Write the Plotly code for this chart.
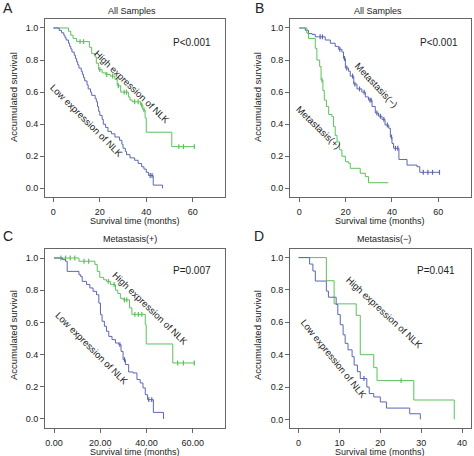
"""
Kaplan-Meier survival curves by NLK expression and metastasis status.
Four panels (A-D) redrawn with plotly.
"""

import plotly.graph_objects as go

# Panel A: all samples, by NLK expression
a_high_t = [0, 6.5, 7.5, 8.5, 10, 15.5, 16.5, 18, 18.5, 19.5, 21, 22.5, 24.5, 26.5, 27.5, 29,
            32.3, 33, 34, 37.5, 38.5, 39.5, 40, 51, 60.7]
a_high_s = [1.0, 0.98, 0.955, 0.935, 0.915, 0.88, 0.84, 0.82, 0.78, 0.74, 0.72, 0.71, 0.70, 0.68,
            0.64, 0.60, 0.57, 0.55, 0.54, 0.52, 0.49, 0.44, 0.35, 0.26, 0.26]
a_high_cens = [11.5, 13, 20, 23, 25.5, 28, 30.5, 31.5, 35, 36.5, 38, 39, 54, 56, 60.7]

a_low_t = [0, 2.5, 3.5, 4.5, 5, 5.5, 6.5, 7, 7.5, 8, 9, 9.5, 10, 10.5, 11, 12, 12.5, 13, 13.5,
           14.5, 15, 16, 16.5, 18, 18.5, 19, 19.5, 20, 21, 21.5, 22.5, 23.5, 25, 26.5, 28.5, 29.5,
           30, 31, 31.5, 33, 35, 36.5, 38, 39, 40, 41, 43, 47]
a_low_s = [1.0, 0.985, 0.97, 0.955, 0.94, 0.925, 0.905, 0.885, 0.87, 0.85, 0.83, 0.81, 0.79, 0.77,
           0.75, 0.73, 0.71, 0.69, 0.67, 0.645, 0.62, 0.60, 0.58, 0.56, 0.54, 0.51, 0.48, 0.455,
           0.43, 0.40, 0.38, 0.355, 0.34, 0.32, 0.30, 0.275, 0.25, 0.23, 0.21, 0.19, 0.175, 0.155,
           0.135, 0.12, 0.10, 0.08, 0.02, 0.0]
a_low_cens = [41.7, 42.5]

# Panel B: all samples, by metastasis
b_neg_t = [0, 2.6, 4, 5.5, 6.9, 11.2, 13.4, 15.5, 17, 18.4, 19.1, 19.9, 21.3, 22, 23.5, 24.9, 27,
           28.5, 29.9, 31.4, 32.8, 34.2, 35.7, 37, 38.6, 39.3, 40, 40.7, 43, 46.5, 50.8, 52, 60.5]
b_neg_s = [1.0, 0.985, 0.965, 0.96, 0.945, 0.925, 0.905, 0.885, 0.867, 0.85, 0.81, 0.75, 0.73,
           0.70, 0.65, 0.62, 0.60, 0.57, 0.55, 0.51, 0.47, 0.45, 0.43, 0.395, 0.375, 0.32, 0.28,
           0.25, 0.18, 0.145, 0.135, 0.10, 0.10]
b_neg_cens = [9, 10, 17.5, 19.5, 20.5, 23, 24, 26, 28, 30.5, 31, 33.5, 35, 36.5, 38, 39.8, 41.5,
              42.5, 53.5, 55.5, 57.5, 60.5]

b_pos_t = [0, 3.3, 4, 6.9, 7.6, 8.8, 9.4, 10.2, 10.8, 11.7, 12.7, 14.1, 14.8, 15.5, 16.3, 17.4,
           18.4, 19.9, 21.3, 22, 26.3, 28.5, 29.9, 38.4]
b_pos_s = [1.0, 0.967, 0.935, 0.873, 0.80, 0.76, 0.675, 0.61, 0.55, 0.51, 0.46, 0.447, 0.385,
           0.33, 0.29, 0.24, 0.20, 0.166, 0.156, 0.125, 0.094, 0.073, 0.035, 0.035]
b_pos_cens = [9.8]

# Panel C: metastasis(+), by NLK expression
c_high_t = [0, 10.8, 17.7, 18.7, 19.8, 21.5, 22.7, 24.4, 26.6, 27.6, 28.7, 29.9, 32.7, 33.7,
            39.5, 39.9, 51.4, 60.7]
c_high_s = [1.0, 0.98, 0.96, 0.917, 0.88, 0.865, 0.855, 0.835, 0.80, 0.78, 0.75, 0.74, 0.69,
            0.65, 0.586, 0.466, 0.348, 0.348]
c_high_cens = [3, 5, 7, 9, 13, 15, 23.5, 26, 30.5, 31.5, 35, 36.5, 38, 53.5, 56, 60.7]

c_low_t = [0, 3.6, 5, 5.7, 10.8, 11.5, 12.2, 14.1, 15.5, 16.9, 18.4, 19.4, 20.1, 20.8, 21.8, 22.7,
           23.7, 25.1, 26.6, 28, 29, 29.9, 30.9, 32.3, 34.2, 35.9, 37.3, 38.5, 39.5, 40.5, 43, 47.4]
c_low_s = [1.0, 0.99, 0.98, 0.917, 0.896, 0.886, 0.855, 0.835, 0.814, 0.793, 0.772, 0.72, 0.648,
           0.607, 0.576, 0.545, 0.513, 0.493, 0.472, 0.462, 0.42, 0.369, 0.338, 0.292, 0.286,
           0.245, 0.224, 0.193, 0.151, 0.12, 0.041, 0.0]
c_low_cens = [28.5, 30.5, 41, 42.3]

# Panel D: metastasis(-), by NLK expression
d_high_t = [0, 6.8, 8.7, 14.1, 15.1, 18.4, 19.2, 28.2, 38.1]
d_high_s = [1.0, 0.857, 0.714, 0.643, 0.40, 0.32, 0.24, 0.12, 0.0]
d_high_cens = [25.1]

d_low_t = [0, 2.7, 3.5, 4.1, 6.8, 7.3, 9.2, 9.6, 10.2, 10.9, 11.4, 12.1, 13.1, 13.6, 14.4, 15.1,
           16.7, 17.3, 18.4, 20, 21.5, 27.2, 29.8]
d_low_s = [1.0, 0.96, 0.917, 0.855, 0.793, 0.755, 0.71, 0.648, 0.585, 0.523, 0.47, 0.43, 0.388,
           0.336, 0.295, 0.253, 0.20, 0.16, 0.139, 0.108, 0.07, 0.035, 0.0]
d_low_cens = [16]

GREEN = '#5cc15c'
BLUE = '#5b67b3'
FONT = 'Liberation Sans, Arial, sans-serif'

W, H = 474, 456


def step_at(t_list, s_list, t):
    """Survival value of a step curve at time t."""
    val = s_list[0]
    for ti, si in zip(t_list, s_list):
        if ti <= t:
            val = si
    return val


def add_curve(fig, t_list, s_list, cens, color, xa, ya):
    """Step line plus censor ticks."""
    fig.add_trace(go.Scatter(
        x=t_list, y=s_list, mode='lines', line=dict(color=color, width=1, shape='hv'),
        xaxis=xa, yaxis=ya, showlegend=False, hoverinfo='skip'))
    fig.add_trace(go.Scatter(
        x=cens, y=[step_at(t_list, s_list, c) for c in cens], mode='markers',
        marker=dict(symbol='line-ns', size=3.5, line=dict(color=color, width=1.2)),
        xaxis=xa, yaxis=ya, showlegend=False, hoverinfo='skip'))


fig = go.Figure()

add_curve(fig, a_high_t, a_high_s, a_high_cens, GREEN, 'x', 'y')
add_curve(fig, a_low_t, a_low_s, a_low_cens, BLUE, 'x', 'y')
add_curve(fig, b_neg_t, b_neg_s, b_neg_cens, BLUE, 'x2', 'y2')
add_curve(fig, b_pos_t, b_pos_s, b_pos_cens, GREEN, 'x2', 'y2')
add_curve(fig, c_high_t, c_high_s, c_high_cens, GREEN, 'x3', 'y3')
add_curve(fig, c_low_t, c_low_s, c_low_cens, BLUE, 'x3', 'y3')
add_curve(fig, d_high_t, d_high_s, d_high_cens, GREEN, 'x4', 'y4')
add_curve(fig, d_low_t, d_low_s, d_low_cens, BLUE, 'x4', 'y4')

# panel frames in pixels: (left, right, top, bottom)
left_x = [45 / W, 225 / W]
right_x = [290 / W, 471 / W]
top_y = [1 - 197 / H, 1 - 19 / H]
bot_y = [1 - 428 / H, 1 - 249 / H]

axis_style = dict(showline=True, linecolor='#666666', linewidth=1, mirror=True,
                  showgrid=False, zeroline=False, ticks='outside', ticklen=4,
                  tickcolor='#666666', tickfont=dict(size=9, color='#222222', family=FONT))

xax = dict(axis_style, ticklabelstandoff=2)
yax = dict(axis_style, tickvals=[0, 0.2, 0.4, 0.6, 0.8, 1.0], tickformat='.1f')

fig.update_layout(
    width=W, height=H, autosize=False,
    margin=dict(l=0, r=0, t=0, b=0),
    paper_bgcolor='white', plot_bgcolor='white',
    font=dict(family=FONT, color='#222222'),
    xaxis=dict(xax, domain=left_x, range=[-3.6, 73.9], tickvals=[0, 20, 40, 60], anchor='y'),
    yaxis=dict(yax, domain=top_y, range=[-0.054, 1.056], anchor='x'),
    xaxis2=dict(xax, domain=right_x, range=[-4.0, 74.1], tickvals=[0, 20, 40, 60], anchor='y2'),
    yaxis2=dict(yax, domain=top_y, range=[-0.054, 1.056], anchor='x2'),
    xaxis3=dict(xax, domain=left_x, range=[-3.9, 74.0], tickvals=[0, 20, 40, 60],
                tickformat='.2f', anchor='y3'),
    yaxis3=dict(yax, domain=bot_y, range=[-0.056, 1.056], anchor='x3'),
    xaxis4=dict(xax, domain=right_x, range=[-2.1, 42.2], tickvals=[0, 10, 20, 30, 40], anchor='y4'),
    yaxis4=dict(yax, domain=bot_y, range=[-0.053, 1.053], anchor='x4'),
)


def paper_text(text, px, py, size, angle=0):
    """Annotation placed by pixel position on the page."""
    fig.add_annotation(text=text, x=px / W, y=1 - py / H, xref='paper', yref='paper',
                       showarrow=False, textangle=angle, xanchor='center', yanchor='middle',
                       font=dict(size=size, family=FONT, color='#222222'))


def data_text(text, x, y, xa, ya, size=9.5, angle=0):
    """Annotation placed in data coordinates of one panel."""
    fig.add_annotation(text=text, x=x, y=y, xref=xa, yref=ya, showarrow=False,
                       textangle=angle, xanchor='center', yanchor='middle',
                       font=dict(size=size, family=FONT, color='#222222'))


# panel letters
paper_text('A', 8, 8, 14)
paper_text('B', 259, 8, 14)
paper_text('C', 8, 236, 14)
paper_text('D', 259, 236, 14)

# panel titles
paper_text('All Samples', 132, 11, 9)
paper_text('All Samples', 378, 11, 9)
paper_text('Metastasis(+)', 130, 239, 9)
paper_text('Metastasis(\u2212)', 384, 239, 9)

# axis titles
for cx, cy in [(13, 97), (257, 97), (13, 335), (257, 335)]:
    paper_text('Accumulated survival', cx, cy, 9.5, angle=-90)
for cx, cy in [(135, 221), (380, 221), (135, 451.5), (380, 451.5)]:
    paper_text('Survival time (months)', cx, cy, 9)

# p-values
data_text('P<0.001', 59.6, 0.908, 'x', 'y', size=10)
data_text('P<0.001', 60.2, 0.908, 'x2', 'y2', size=10)
data_text('P=0.007', 59.6, 0.921, 'x3', 'y3', size=10)
data_text('P=0.041', 33.6, 0.921, 'x4', 'y4', size=10)

# curve labels
data_text('High expression of NLK', 33.7, 0.634, 'x', 'y', angle=44)
data_text('Low expression of NLK', 14.4, 0.426, 'x', 'y', angle=45)
data_text('Metastasis(\u2212)', 33.5, 0.644, 'x2', 'y2', angle=47)
data_text('Metastasis(+)', 8.4, 0.38, 'x2', 'y2', angle=44)
data_text('High expression of NLK', 41.7, 0.685, 'x3', 'y3', angle=44)
data_text('Low expression of NLK', 16.6, 0.44, 'x3', 'y3', angle=45)
data_text('High expression of NLK', 21.0, 0.658, 'x4', 'y4', angle=43)
data_text('Low expression of NLK', 8.6, 0.378, 'x4', 'y4', angle=51)

# the page has a default body margin; drop it so the figure sits at the corner
fig.write_html("out.html", config={'displayModeBar': False},
               post_script="document.body.style.margin='0px';")
